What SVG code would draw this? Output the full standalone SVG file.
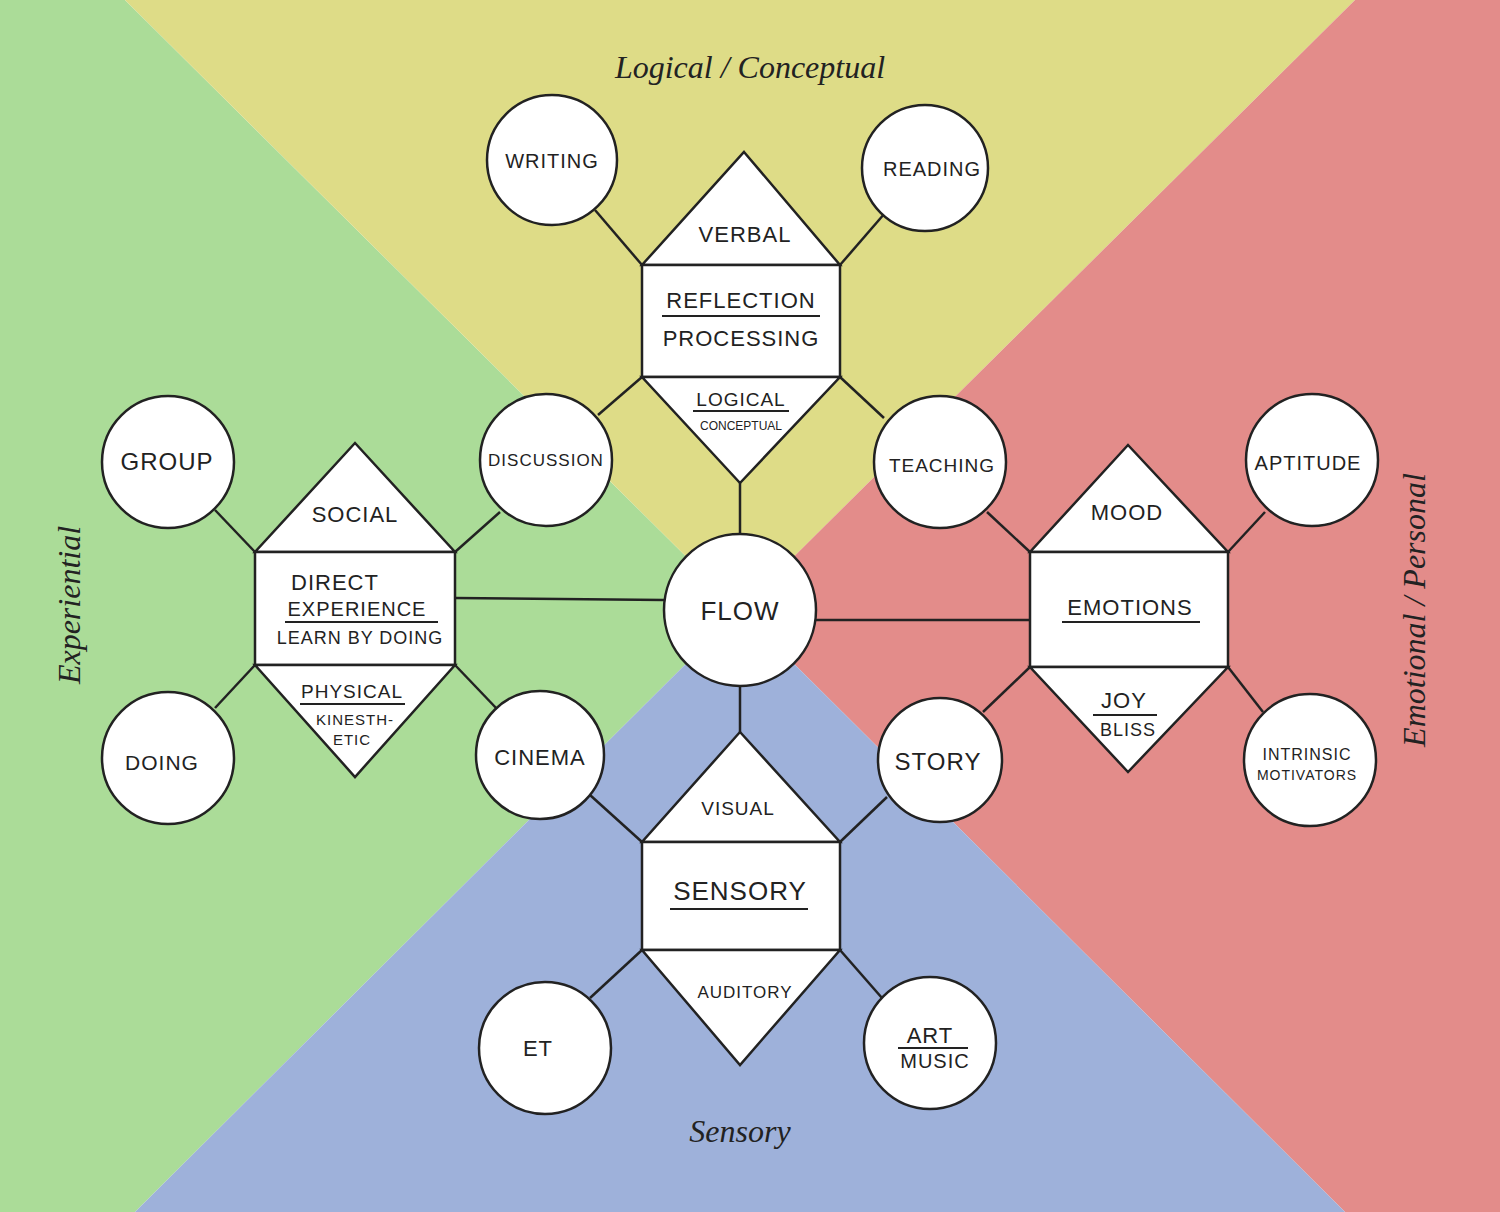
<svg xmlns="http://www.w3.org/2000/svg" width="1500" height="1212" viewBox="0 0 1500 1212">
<style>
.s{fill:#fff;stroke:#222;stroke-width:2.5}
.c line{stroke:#222;stroke-width:2.5}
.u{stroke:#222;stroke-width:2}
text{font-family:"Liberation Sans",sans-serif;fill:#222;text-anchor:middle;letter-spacing:1px}
.cat{font-family:"Liberation Serif",serif;font-style:italic;font-size:32px;letter-spacing:0}
</style>
<polygon points="0,0 125,0 740,610 135,1212 0,1212" fill="#abdc98"/>
<polygon points="125,0 1355,0 740,610" fill="#dedc87"/>
<polygon points="1355,0 1500,0 1500,1212 1345,1212 740,610" fill="#e38c8a"/>
<polygon points="135,1212 740,610 1345,1212" fill="#9eb1da"/>
<text class="cat" x="750" y="78">Logical / Conceptual</text>
<text class="cat" x="740" y="1142">Sensory</text>
<text class="cat" transform="translate(80,605) rotate(-90)">Experiential</text>
<text class="cat" transform="translate(1425,610) rotate(-90)">Emotional / Personal</text>
<g class="c" id="connectors">
<line x1="595" y1="210" x2="642" y2="265"/><line x1="885" y1="213" x2="840" y2="265"/>
<line x1="598" y1="415" x2="642" y2="377"/><line x1="884" y1="418" x2="840" y2="377"/>
<line x1="740" y1="534" x2="740" y2="483"/><line x1="740" y1="686" x2="740" y2="732"/>
<line x1="664" y1="600" x2="455" y2="598"/><line x1="816" y1="620" x2="1030" y2="620"/>
<line x1="215" y1="510" x2="255" y2="552"/><line x1="500" y1="512" x2="455" y2="552"/>
<line x1="215" y1="708" x2="255" y2="665"/><line x1="498" y1="710" x2="455" y2="665"/>
<line x1="987" y1="512" x2="1030" y2="552"/><line x1="1265" y1="512" x2="1228" y2="552"/>
<line x1="983" y1="712" x2="1030" y2="667"/><line x1="1263" y1="712" x2="1228" y2="667"/>
<line x1="590" y1="795" x2="642" y2="842"/><line x1="887" y1="797" x2="840" y2="842"/>
<line x1="590" y1="998" x2="642" y2="950"/><line x1="882" y1="998" x2="840" y2="950"/>
</g>
<g id="top" font-size="22">
<polygon class="s" points="744,152 840,265 642,265"/><rect class="s" x="642" y="265" width="198" height="112"/><polygon class="s" points="642,377 840,377 740,483"/>
<text x="745" y="242">VERBAL</text>
<text x="741" y="308">REFLECTION</text><line class="u" x1="662" y1="316" x2="820" y2="316"/>
<text x="741" y="346">PROCESSING</text>
<text x="741" y="406" font-size="19">LOGICAL</text><line class="u" x1="693" y1="411" x2="789" y2="411"/>
<text x="741" y="430" font-size="12" style="letter-spacing:0">CONCEPTUAL</text>
</g>
<g id="left" font-size="22">
<polygon class="s" points="355,443 455,552 255,552"/><rect class="s" x="255" y="552" width="200" height="113"/><polygon class="s" points="255,665 455,665 355,777"/>
<text x="355" y="522">SOCIAL</text>
<text x="335" y="590">DIRECT</text>
<text x="357" y="616" font-size="20">EXPERIENCE</text><line class="u" x1="285" y1="622" x2="438" y2="622"/>
<text x="360" y="644" font-size="18">LEARN BY DOING</text>
<text x="352" y="698" font-size="19">PHYSICAL</text><line class="u" x1="300" y1="704" x2="405" y2="704"/>
<text x="355" y="725" font-size="15">KINESTH-</text><text x="352" y="745" font-size="15">ETIC</text>
</g>
<g id="right" font-size="22">
<polygon class="s" points="1128,445 1228,552 1030,552"/><rect class="s" x="1030" y="552" width="198" height="115"/><polygon class="s" points="1030,667 1228,667 1128,772"/>
<text x="1127" y="520">MOOD</text>
<text x="1130" y="615">EMOTIONS</text><line class="u" x1="1062" y1="622" x2="1200" y2="622"/>
<text x="1124" y="708">JOY</text><line class="u" x1="1093" y1="715" x2="1157" y2="715"/>
<text x="1128" y="736" font-size="18">BLISS</text>
</g>
<g id="bottom" font-size="22">
<polygon class="s" points="740,732 840,842 642,842"/><rect class="s" x="642" y="842" width="198" height="108"/><polygon class="s" points="642,950 840,950 740,1065"/>
<text x="738" y="815" font-size="19">VISUAL</text>
<text x="740" y="900" font-size="26">SENSORY</text><line class="u" x1="670" y1="909" x2="808" y2="909"/>
<text x="745" y="998" font-size="17">AUDITORY</text>
</g>
<g id="flow"><circle class="s" cx="740" cy="610" r="76"/><text x="740" y="620" font-size="26">FLOW</text></g>
<g id="writing"><circle class="s" cx="552" cy="160" r="65"/><text x="552" y="168" font-size="20">WRITING</text></g>
<g id="reading"><circle class="s" cx="925" cy="168" r="63"/><text x="932" y="176" font-size="20">READING</text></g>
<g id="discussion"><circle class="s" cx="546" cy="460" r="66"/><text x="546" y="466" font-size="17">DISCUSSION</text></g>
<g id="teaching"><circle class="s" cx="940" cy="462" r="66"/><text x="942" y="472" font-size="19">TEACHING</text></g>
<g id="group"><circle class="s" cx="168" cy="462" r="66"/><text x="167" y="470" font-size="24">GROUP</text></g>
<g id="doing"><circle class="s" cx="168" cy="758" r="66"/><text x="162" y="770" font-size="21">DOING</text></g>
<g id="cinema"><circle class="s" cx="540" cy="755" r="64"/><text x="540" y="765" font-size="22">CINEMA</text></g>
<g id="aptitude"><circle class="s" cx="1312" cy="460" r="66"/><text x="1308" y="470" font-size="20">APTITUDE</text></g>
<g id="intrinsic"><circle class="s" cx="1310" cy="760" r="66"/><text x="1307" y="760" font-size="16">INTRINSIC</text><text x="1307" y="780" font-size="14">MOTIVATORS</text></g>
<g id="story"><circle class="s" cx="940" cy="760" r="62"/><text x="938" y="770" font-size="24">STORY</text></g>
<g id="et"><circle class="s" cx="545" cy="1048" r="66"/><text x="538" y="1056" font-size="22">ET</text></g>
<g id="art"><circle class="s" cx="930" cy="1043" r="66"/><text x="930" y="1043" font-size="22">ART</text><line class="u" x1="898" y1="1048" x2="968" y2="1048"/><text x="935" y="1068" font-size="20">MUSIC</text></g>
</svg>
